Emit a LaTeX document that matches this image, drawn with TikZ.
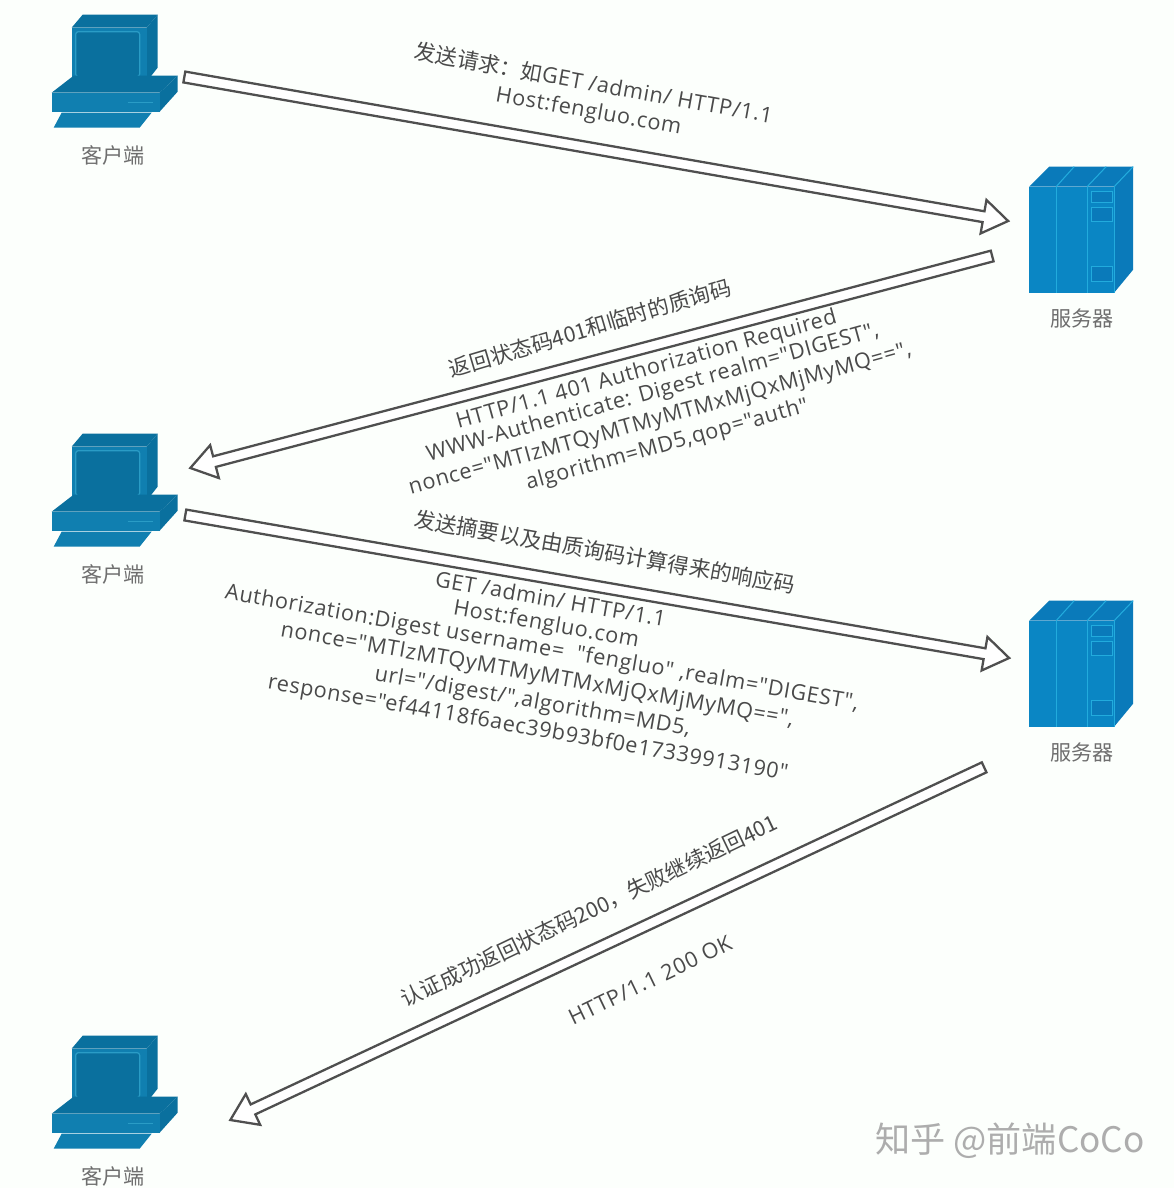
\documentclass[tikz,border=0pt]{standalone}
\usepackage{fontspec}
\setmainfont[LetterSpace=3,Ligatures=TeXOff]{Open Sans}
\newfontfamily\cjk{Noto Sans CJK SC}
\usetikzlibrary{calc,positioning}
\colorlet{pagewhite}{white!99!green}
\definecolor{mytext}{HTML}{4A4A4A}
\definecolor{mylabel}{HTML}{6E6E6E}
\definecolor{myedge}{HTML}{4F4F4F}
\definecolor{pcfront}{HTML}{107FB0}
\definecolor{pcdark}{HTML}{0A709E}
\definecolor{pcline}{HTML}{2A9CC6}
\definecolor{srvfront}{HTML}{0A86C4}
\definecolor{srvside}{HTML}{0A7ABA}
\definecolor{srvline}{HTML}{22ABDD}
\tikzset{
  clientbox/.style={inner sep=0,minimum width=2.52cm,minimum height=2.28cm},
  serverbox/.style={inner sep=0,minimum width=2.1cm,minimum height=2.52cm},
  iconlabel/.style={text=mylabel,font=\cjk\fontsize{12}{14}\selectfont,inner sep=0},
  msg/.style={text=mytext,align=center,inner sep=0,font=\fontsize{12.3}{15.4}\selectfont},
  titlemsg/.style={text=mytext,inner sep=0,font=\cjk\fontsize{12.2}{15}\selectfont},
  hollowarrow/.style={draw=myedge,fill=white,line width=1.3pt,line join=miter,
    to path={
      ($(\tikztostart)!0.11cm!90:(\tikztotarget)$)
      -- ($(\tikztotarget)!0.5cm!(\tikztostart)!0.11cm!90:(\tikztotarget)$)
      -- ($(\tikztotarget)!0.5cm!(\tikztostart)!0.34cm!90:(\tikztotarget)$)
      -- (\tikztotarget)
      -- ($(\tikztotarget)!0.5cm!(\tikztostart)!0.34cm!-90:(\tikztotarget)$)
      -- ($(\tikztotarget)!0.5cm!(\tikztostart)!0.11cm!-90:(\tikztotarget)$)
      -- ($(\tikztostart)!0.11cm!-90:(\tikztotarget)$)
      -- cycle}},
  clientpc/.pic={
    \fill[pcdark] (20,14) -- (31,1) -- (106,1) -- (95,14) -- cycle;
    \fill[pcdark] (95,14) -- (106,1) -- (106,54) -- (95,68) -- cycle;
    \fill[pcfront] (20,14) rectangle (95,68);
    \fill[pcdark,draw=pcline,line width=0.7pt,rounded corners=1.5] (24,18) rectangle (88,63);
    \fill[pcdark] (0,79) -- (22,62) -- (126,62) -- (108,79) -- cycle;
    \fill[pcdark] (108,79) -- (126,62) -- (126,78) -- (108,98) -- cycle;
    \fill[pcfront] (0,79) rectangle (108,98);
    \draw[pcline,line width=0.6pt] (76,89) -- (101,89);
    \fill[pcfront] (10,99) -- (2,114) -- (88,114) -- (100,99) -- cycle;
  },
  serverpc/.pic={
    \fill[srvside] (0,20) -- (20,0) -- (104,0) -- (85,20) -- cycle;
    \fill[srvside] (85,20) -- (104,0) -- (104,103) -- (85,126) -- cycle;
    \fill[srvfront] (0,20) rectangle (85,126);
    \draw[srvline,line width=0.6pt] (27,20) -- (27,126) (58,20) -- (58,126) (85,20) -- (85,126);
    \draw[srvline,line width=0.6pt] (27,20) -- (45,0) (58,20) -- (77,0) (85,20) -- (104,0);
    \foreach \ya/\yb in {25/36,41/55,100/115}
      \fill[srvside,draw=srvline,line width=0.5pt] (62,\ya) rectangle (83,\yb);
  }
}
\begin{document}
\begin{tikzpicture}[x=0.02cm,y=-0.02cm]
\useasboundingbox (0,0) rectangle (1174,1188);
\fill[pagewhite] (0,0) rectangle (1174,1188);
% clients and servers
\foreach \n/\y in {1/71,2/490,3/1092}{
  \node[clientbox] (client\n) at (115,\y) {};
  \pic at (client\n.north west) {clientpc};
  \node[iconlabel,below=0.34cm of client\n,xshift=-0.04cm] (clientlabel\n) {客户端};
}
\foreach \n/\y in {1/230,2/664}{
  \node[serverbox] (server\n) at (1082,\y) {};
  \pic at (server\n.north west) {serverpc};
  \node[iconlabel,below=0.3cm of server\n] (serverlabel\n) {服务器};
}
% arrow ends
\coordinate (out1) at ([shift={(6,6)}]client1.east);
\coordinate (in1) at ([shift={(-21,-9)}]server1.west);
\coordinate (out2) at ([shift={(-37,26)}]server1.west);
\coordinate (in2) at ([shift={(12,-22)}]client2.east);
\coordinate (out3) at ([shift={(7,25)}]client2.east);
\coordinate (in3) at ([shift={(-20,-6)}]server2.west);
\coordinate (out4) at ([shift={(-45,40)}]server2.south west);
\coordinate (in4) at ([shift={(52,28)}]client3.east);
\draw[hollowarrow] (out1) to (in1);
\draw[hollowarrow] (out2) to (in2);
\draw[hollowarrow] (out3) to (in3);
\draw[hollowarrow] (out4) to (in4);
% messages
\node[msg,rotate=-10.2] (req1) at (591,98) {{\cjk 发送请求：如}GET /admin/ HTTP/1.1\\Host:fengluo.com};
\node[titlemsg,rotate=16.5] (title2) at (590,328) {返回状态码401和临时的质询码};
\node[msg,rotate=15.5] (resp2) at (657,408) {HTTP/1.1 401 Authorization Required\\[-2pt]WWW-Authenticate: Digest realm="DIGEST",\\nonce="MTIzMTQyMTMyMTMxMjQxMjMyMQ==",\\algorithm=MD5,qop="auth"};
\node[titlemsg,rotate=-10] (title3) at (605,552) {发送摘要以及由质询码计算得来的响应码};
\node[msg,rotate=-10] (req3) at (539,665) {GET /admin/ HTTP/1.1\\[-1.5pt]Host:fengluo.com\\[-1.5pt]Authorization:Digest username= \ "fengluo" ,realm="DIGEST",\\nonce="MTIzMTQyMTMyMTMxMjQxMjMyMQ==",\\url="/digest/",algorithm=MD5,\\response="ef44118f6aec39b93bf0e17339913190"};
\node[titlemsg,rotate=25.6] (title4) at (589,911) {认证成功返回状态码200，失败继续返回401};
\node[msg,rotate=25.6] (resp4) at (650,980) {HTTP/1.1 200 OK};
% watermark
\node[text=black!32,inner sep=0,font=\cjk\fontsize{20}{24}\selectfont] (mark) at (1010,1141) {知乎 @前端CoCo};
\end{tikzpicture}
\end{document}
